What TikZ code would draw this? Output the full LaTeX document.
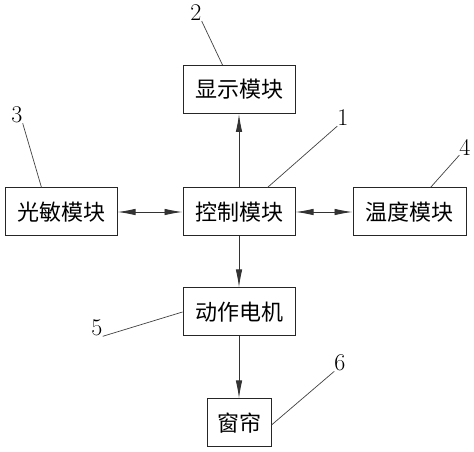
\documentclass[tikz,border=0pt]{standalone}
\usepackage{fontspec}
\newfontfamily\cjk{Noto Sans CJK SC}
\usetikzlibrary{arrows.meta}
\begin{document}
\begin{tikzpicture}[x=1pt,y=1pt,
  box/.style={draw=black!85, line width=1pt, minimum width=112pt, minimum height=48pt, inner sep=0pt, font=\cjk\fontsize{22}{22}\selectfont},
  num/.style={inner sep=0pt, font=\fontsize{24}{24}\selectfont},
  arr/.style={draw=black!80, line width=0.9pt, -{Latex[length=18pt,width=6.5pt]}},
  biarr/.style={draw=black!80, line width=0.9pt, {Latex[length=18pt,width=6.5pt]}-{Latex[length=18pt,width=6.5pt]}},
  lead/.style={draw=black!75, line width=0.7pt}]
\useasboundingbox (0,0) rectangle (474,452);

\node[box] (disp) at (239,362.5) {显示模块};
\node[box] (light) at (61,240) {光敏模块};
\node[box] (ctrl) at (239,240) {控制模块};
\node[box, minimum width=113pt] (temp) at (409.5,240) {温度模块};
\node[box] (motor) at (239,140) {动作电机};
\node[box, minimum width=64pt] (curtain) at (239,29) {窗帘};

\draw[arr] (ctrl) -- (disp);
\draw[biarr] (light) -- (ctrl);
\draw[biarr] (ctrl) -- (temp);
\draw[arr] (ctrl) -- (motor);
\draw[arr] (motor) -- (curtain);

\node[num] (n1) at (343,334) {1};
\node[num] (n2) at (196,439) {2};
\node[num] (n3) at (17,337) {3};
\node[num] (n4) at (465,305) {4};
\node[num] (n5) at (97,124) {5};
\node[num] (n6) at (340,89) {6};

\draw[lead] (n1.south west) -- ([xshift=-28pt]ctrl.north east);
\draw[lead] (n2.south east) -- ([xshift=40pt]disp.north west);
\draw[lead] (n3.south east) -- ([xshift=37pt]light.north west);
\draw[lead] (n4.south west) -- ([xshift=-36pt]temp.north east);
\draw[lead] (n5.south east) -- (motor.west);
\draw[lead] (n6.south west) -- ([yshift=-2pt]curtain.east);
\end{tikzpicture}
\end{document}
